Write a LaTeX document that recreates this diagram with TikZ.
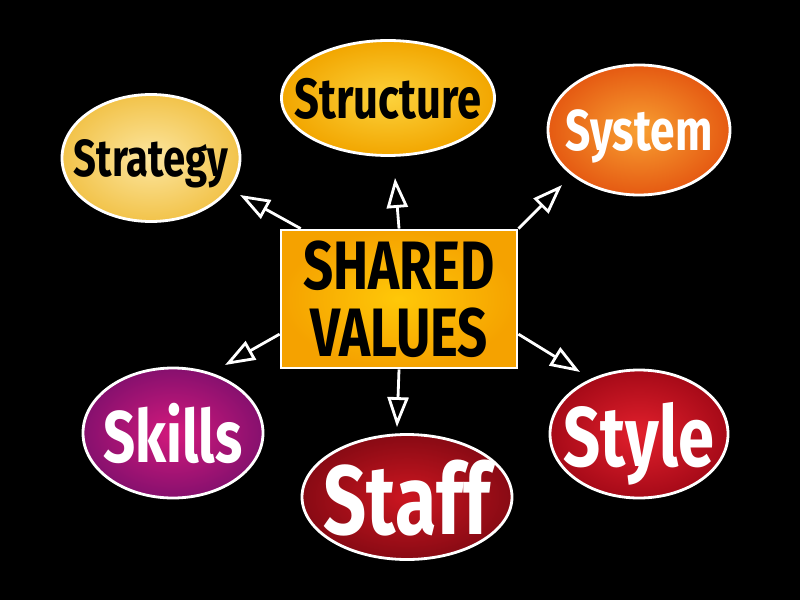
\documentclass[tikz,border=0pt]{standalone}
\usepackage{fontspec}
\setmainfont{Fira Sans}
\usepackage{tikz}
\usetikzlibrary{shapes.geometric, positioning}
\usetikzlibrary{arrows.meta}
\tikzset{>=stealth}
\definecolor{strategyIn}{HTML}{FCE6A0}
\definecolor{strategyOut}{HTML}{F2C34A}
\definecolor{structureIn}{HTML}{FCD23C}
\definecolor{structureOut}{HTML}{F2A600}
\definecolor{systemIn}{HTML}{F8A032}
\definecolor{systemOut}{HTML}{E55A12}
\definecolor{skillsIn}{HTML}{D3197C}
\definecolor{skillsOut}{HTML}{86106E}
\definecolor{staffIn}{HTML}{CC1620}
\definecolor{staffOut}{HTML}{880A14}
\definecolor{styleIn}{HTML}{E2202C}
\definecolor{styleOut}{HTML}{A60A18}
\definecolor{valuesIn}{HTML}{FFC808}
\definecolor{valuesOut}{HTML}{F5A200}
% tall lettering, kept out of the node's size
\newcommand{\tall}[1]{\makebox[0pt]{\smash{\raisebox{-0.5\height}{\scalebox{1}[1.3]{#1}}}}}
\tikzset{
  bubble/.style={ellipse, draw=white, line width=0.8pt, inner sep=0pt, shading=radial},
  pointer/.style={draw=white, line width=0.8pt, -{Triangle[open, length=8.5pt, width=6pt]}}
}

\begin{document}
\begin{tikzpicture}[font=\bfseries]
			\fill[black] (0,0) rectangle (8,6);
			\useasboundingbox (0,0) rectangle (8,6);
			% centre
			\node [draw=white, line width=0.8pt, shading=radial, inner color=valuesIn, outer color=valuesOut, minimum width=2.36cm, minimum height=1.38cm, align=center, font=\fontsize{15}{17}\bfseries\selectfont, inner sep=0pt] (values) at (3.99,3.01) {\scalebox{1}[1.3]{SHARED}\\[2pt]\scalebox{1}[1.3]{VALUES}};
			% the six bubbles
			\node [bubble, inner color=strategyIn, outer color=strategyOut, minimum width=1.78cm, minimum height=1.27cm, font=\fontsize{11.4}{13}\bfseries\selectfont] (strategy) at (1.51,4.42) {\tall{Strategy}};
			\node [bubble, inner color=structureIn, outer color=structureOut, minimum width=2.13cm, minimum height=1.15cm, font=\fontsize{12.4}{14}\bfseries\selectfont] (structure) at (3.88,5.02) {\tall{Structure}};
			\node [bubble, inner color=systemIn, outer color=systemOut, minimum width=1.82cm, minimum height=1.30cm, text=white, font=\fontsize{12.6}{14}\bfseries\selectfont] (system) at (6.39,4.70) {\tall{System}};
			\node [bubble, inner color=skillsIn, outer color=skillsOut, minimum width=1.80cm, minimum height=1.30cm, text=white, font=\fontsize{16}{18}\bfseries\selectfont] (skills) at (1.73,1.67) {\tall{Skills}};
			\node [bubble, inner color=staffIn, outer color=staffOut, minimum width=2.10cm, minimum height=1.25cm, text=white, font=\fontsize{21.5}{24}\bfseries\selectfont] (staff) at (4.07,1.03) {\tall{Staff}};
			\node [bubble, inner color=styleIn, outer color=styleOut, minimum width=1.78cm, minimum height=1.28cm, text=white, font=\fontsize{18.5}{21}\bfseries\selectfont] (style) at (6.39,1.66) {\tall{Style}};
			% arrow tips
			\coordinate (tipStrategy) at (2.40,4.05);
			\coordinate (tipStructure) at (3.95,4.22);
			\coordinate (tipSystem) at (5.62,4.15);
			\coordinate (tipSkills) at (2.25,2.35);
			\coordinate (tipStaff) at (3.97,1.73);
			\coordinate (tipStyle) at (5.80,2.28);
			\draw [pointer] ([xshift=6pt]values.north west) -- (tipStrategy);
			\draw [pointer] (values.north) -- (tipStructure);
			\draw [pointer] (values.north east) -- (tipSystem);
			\draw [pointer] ([yshift=-10pt]values.west) -- (tipSkills);
			\draw [pointer] (values.south) -- (tipStaff);
			\draw [pointer] ([yshift=-10pt]values.east) -- (tipStyle);
		\end{tikzpicture}
\end{document}
